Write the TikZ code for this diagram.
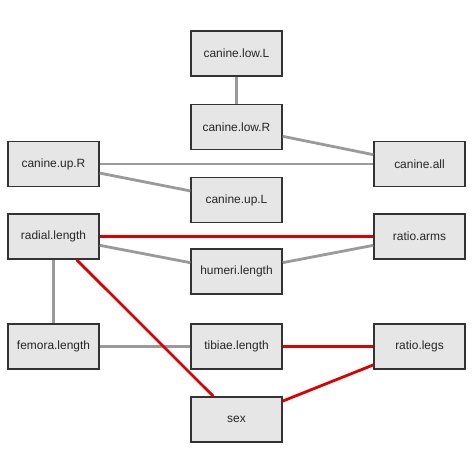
\documentclass[tikz,border=0pt]{standalone}
\usepackage{fontspec}
\setmainfont{Liberation Sans}
\usepackage{xcolor}
\usepackage{tikz}
\usetikzlibrary{positioning}

\definecolor{boxfill}{HTML}{E6E6E6}
\definecolor{boxline}{HTML}{333333}
\definecolor{weakline}{HTML}{9A9A9A}
\definecolor{strongline}{HTML}{DD0000}

\begin{document}
\begin{tikzpicture}[font=\fontsize{6.8}{8}\selectfont,
  var/.style={draw=boxline, fill=boxfill, line width=0.8pt, minimum width=1.82cm, minimum height=0.9cm, inner sep=0pt, text=black!85},
  weak/.style={draw=weakline, line width=1.6pt},
  strong/.style={draw=strongline, line width=1.6pt}]
\useasboundingbox (0,0) rectangle (9.48,-9.48);
% variables
\node[var] (lowL) at (4.73,-1.07) {canine.low.L};
\node[var] (lowR) at (4.73,-2.54) {canine.low.R};
\node[var] (upR) at (1.07,-3.28) {canine.up.R};
\node[var] (all) at (8.39,-3.28) {canine.all};
\node[var] (upL) at (4.73,-4.00) {canine.up.L};
\node[var] (radial) at (1.07,-4.73) {radial.length};
\node[var] (arms) at (8.39,-4.73) {ratio.arms};
\node[var] (humeri) at (4.73,-5.43) {humeri.length};
\node[var] (femora) at (1.07,-6.93) {femora.length};
\node[var] (tibiae) at (4.73,-6.93) {tibiae.length};
\node[var] (legs) at (8.39,-6.93) {ratio.legs};
\node[var] (sex) at (4.73,-8.39) {sex};
% gray edges
\draw[weak] (lowL) -- (lowR);
\draw[weak] (lowR) -- (all);
\draw[weak] (upR) -- (all);
\draw[weak] (upR) -- (upL);
\draw[weak] (radial) -- (humeri);
\draw[weak] (humeri) -- (arms);
\draw[weak] (radial) -- (femora);
\draw[weak] (femora) -- (tibiae);
% red edges
\draw[strong] (radial) -- (arms);
\draw[strong] (radial) -- (sex);
\draw[strong] (tibiae) -- (legs);
\draw[strong] (sex) -- (legs);
\end{tikzpicture}
\end{document}
